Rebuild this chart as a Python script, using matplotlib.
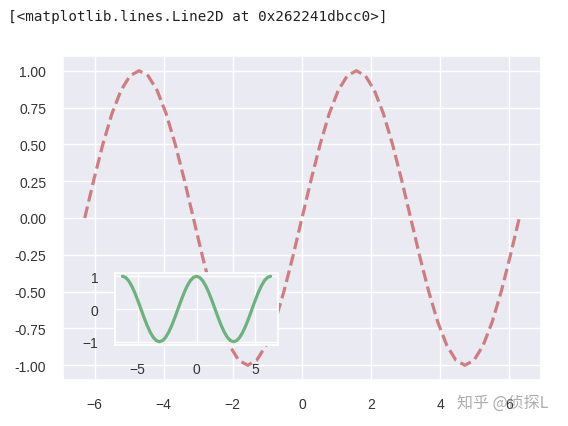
import numpy as np
import matplotlib.pyplot as plt
import seaborn as sns

# sample points (step pi/12)
x = [-6.283, -6.021, -5.760, -5.498, -5.236, -4.974, -4.712, -4.451, -4.189, -3.927,
     -3.665, -3.403, -3.142, -2.880, -2.618, -2.356, -2.094, -1.833, -1.571, -1.309,
     -1.047, -0.785, -0.524, -0.262, 0.0, 0.262, 0.524, 0.785, 1.047, 1.309,
     1.571, 1.833, 2.094, 2.356, 2.618, 2.880, 3.142, 3.403, 3.665, 3.927,
     4.189, 4.451, 4.712, 4.974, 5.236, 5.498, 5.760, 6.021, 6.283]
sin_y = [0.0, 0.259, 0.5, 0.707, 0.866, 0.966, 1.0, 0.966, 0.866, 0.707,
         0.5, 0.259, 0.0, -0.259, -0.5, -0.707, -0.866, -0.966, -1.0, -0.966,
         -0.866, -0.707, -0.5, -0.259, 0.0, 0.259, 0.5, 0.707, 0.866, 0.966,
         1.0, 0.966, 0.866, 0.707, 0.5, 0.259, 0.0, -0.259, -0.5, -0.707,
         -0.866, -0.966, -1.0, -0.966, -0.866, -0.707, -0.5, -0.259, 0.0]
cos_y = [1.0, 0.966, 0.866, 0.707, 0.5, 0.259, 0.0, -0.259, -0.5, -0.707,
         -0.866, -0.966, -1.0, -0.966, -0.866, -0.707, -0.5, -0.259, 0.0, 0.259,
         0.5, 0.707, 0.866, 0.966, 1.0, 0.966, 0.866, 0.707, 0.5, 0.259,
         0.0, -0.259, -0.5, -0.707, -0.866, -0.966, -1.0, -0.966, -0.866, -0.707,
         -0.5, -0.259, 0.0, 0.259, 0.5, 0.707, 0.866, 0.966, 1.0]
main_yticks = [-1.0, -0.75, -0.5, -0.25, 0.0, 0.25, 0.5, 0.75, 1.0]

sns.set_theme(style='darkgrid', color_codes=True)
plt.rcParams['font.family'] = ['Liberation Sans', 'DejaVu Sans']

W, H = 568, 427
fig = plt.figure(figsize=(W / 100, H / 100), dpi=100)

ax = fig.add_axes([63 / W, (H - 381) / H, 478 / W, 324 / H])
ax.plot(x, sin_y, color='r', linestyle='--', lw=2.3, alpha=0.7)
ax.set_yticks(main_yticks)
ax.set_yticklabels(['%.2f' % v for v in main_yticks])
ax.tick_params(labelsize=10, colors='.2', pad=6)

ins = fig.add_axes([115 / W, (H - 346) / H, 163 / W, 72 / H])
ins.plot(x, cos_y, color='g', lw=2.3, alpha=0.85)
ins.set_yticks([-1, 0, 1])
ins.set_xticks([-5, 0, 5])
ins.tick_params(labelsize=10, colors='.2', pad=6)

fig.text(8 / W, 1 - 17 / H, '[<matplotlib.lines.Line2D at 0x262241dbcc0>]',
         family='DejaVu Sans Mono', fontsize=10.3, color='#222222', va='center')
fig.text(457 / W, 1 - 403 / H, '知乎 @侦探L', family=['Noto Sans CJK SC', 'DejaVu Sans'],
         fontsize=11.5, color='#999999', alpha=0.8, va='center')

fig.savefig('out.png', dpi=100, facecolor='white')
